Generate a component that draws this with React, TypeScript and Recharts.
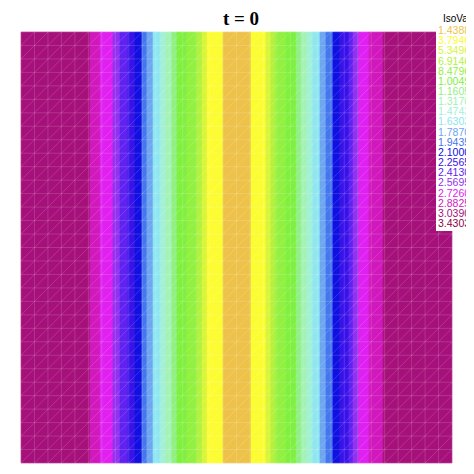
import { ComposedChart, XAxis, YAxis, ReferenceArea, ReferenceLine } from 'recharts';

// mesh: 32 x 32 squares, each cut by a "/" diagonal
const MESH_N = 32;
const MESH_TICKS = Array.from({ length: MESH_N + 1 }, (_, i) => i);

// stripe edges along x, in mesh units
const STRIPE_EDGES = [
  0, 5.12, 5.87, 6.83, 7.35, 7.94, 8.46, 8.98, 9.35, 9.8, 10.32, 10.77, 11.21, 11.58, 12.32, 13.07, 13.44, 13.81,
  15.0, 17.08, 18.19, 18.56, 18.93, 19.67, 20.42, 20.79, 21.23, 21.68, 22.2, 22.64, 23.16, 23.68, 24.35, 24.65,
  25.09, 25.84, 26.88, 32,
];
// iso level (index into ISO_VALUES) of each stripe
const STRIPE_LEVEL = [
  18, 17, 16, 15, 14, 13, 12, 11, 10, 9, 8, 7, 6, 5, 4, 3, 2, 1,
  0,
  1, 2, 3, 4, 5, 6, 7, 8, 9, 10, 11, 12, 13, 14, 15, 16, 17, 18,
];

const ISO_VALUES = [
  '1.43885e-15', '3.79465e-01', '5.34965e-01', '6.91465e-01', '8.47965e-01', '1.00496', '1.16055', '1.31705',
  '1.47430', '1.63030', '1.78700', '1.94350', '2.10000', '2.25650', '2.41300', '2.56950', '2.72600', '2.88250',
  '3.03900', '3.43030',
];
const ISO_COLORS = [
  '#eec24a', '#fcfc32', '#d8f43c', '#b2f23e', '#92f040', '#80f040', '#90f084', '#a2f2b2',
  '#a2f0d8', '#8ee6f2', '#6ea6f0', '#4676ee', '#1010e0', '#3812e8', '#6022f0', '#9232f0',
  '#e020f0', '#d018bc', '#a6107a', '#8c0046',
];

const W = 466;
const H = 466;
const MESH_LINE = { stroke: '#ffffff', strokeOpacity: 0.15, strokeWidth: 1 };

function diagonals() {
  const segs = [];
  for (let k = -(MESH_N - 1); k <= MESH_N - 1; k++) {
    const a = k >= 0 ? { x: k, y: 0 } : { x: 0, y: -k };
    const b = k >= 0 ? { x: MESH_N, y: MESH_N - k } : { x: MESH_N + k, y: MESH_N };
    segs.push([a, b]);
  }
  return segs;
}

export default function App() {
  const stripes = STRIPE_LEVEL.map((lvl, i) => ({ x1: STRIPE_EDGES[i], x2: STRIPE_EDGES[i + 1], lvl }));
  return (
    <div style={{ position: 'relative', width: W, height: H }}>
      <ComposedChart width={W} height={H} margin={{ top: 24, right: 22, bottom: 11, left: 13 }}>
        <XAxis type="number" dataKey="x" domain={[0, MESH_N]} hide allowDataOverflow />
        <YAxis type="number" dataKey="y" domain={[0, MESH_N]} hide allowDataOverflow />
        {stripes.map((s, i) => (
          <ReferenceArea
            key={i}
            x1={s.x1}
            x2={s.x2}
            y1={0}
            y2={MESH_N}
            fill={ISO_COLORS[s.lvl]}
            fillOpacity={1}
            stroke={ISO_COLORS[s.lvl]}
            strokeWidth={0.6}
          />
        ))}
        {MESH_TICKS.map((t) => (
          <ReferenceLine key={'v' + t} x={t} {...MESH_LINE} ifOverflow="visible" />
        ))}
        {MESH_TICKS.map((t) => (
          <ReferenceLine key={'h' + t} y={t} {...MESH_LINE} ifOverflow="visible" />
        ))}
        {diagonals().map((seg, i) => (
          <ReferenceLine key={'d' + i} segment={seg} {...MESH_LINE} ifOverflow="visible" />
        ))}
      </ComposedChart>
      <div
        style={{
          position: 'absolute', left: 0, top: 0, width: W, textAlign: 'center',
          fontFamily: '"Liberation Serif", "Times New Roman", serif', fontWeight: 'bold', fontSize: 19, lineHeight: '22px',
        }}
      >
        t = 0
      </div>
      <div
        style={{
          position: 'absolute', left: 428, top: 3, width: W - 428, height: 220, overflow: 'hidden',
          background: '#ffffff', fontFamily: '"Liberation Sans", Arial, sans-serif', whiteSpace: 'nowrap',
        }}
      >
        <div style={{ fontSize: 10, lineHeight: '12px', paddingLeft: 7, marginTop: 2 }}>IsoValue</div>
        {ISO_VALUES.map((v, i) => (
          <div key={v} style={{ display: 'flex', alignItems: 'center', height: 10.16, fontSize: 10.5, color: ISO_COLORS[i] }}>
            <span style={{ display: 'inline-block', width: 4, height: 5, background: ISO_COLORS[i], marginLeft: 1, marginRight: 1 }} />
            <span>{v}</span>
          </div>
        ))}
      </div>
    </div>
  );
}
